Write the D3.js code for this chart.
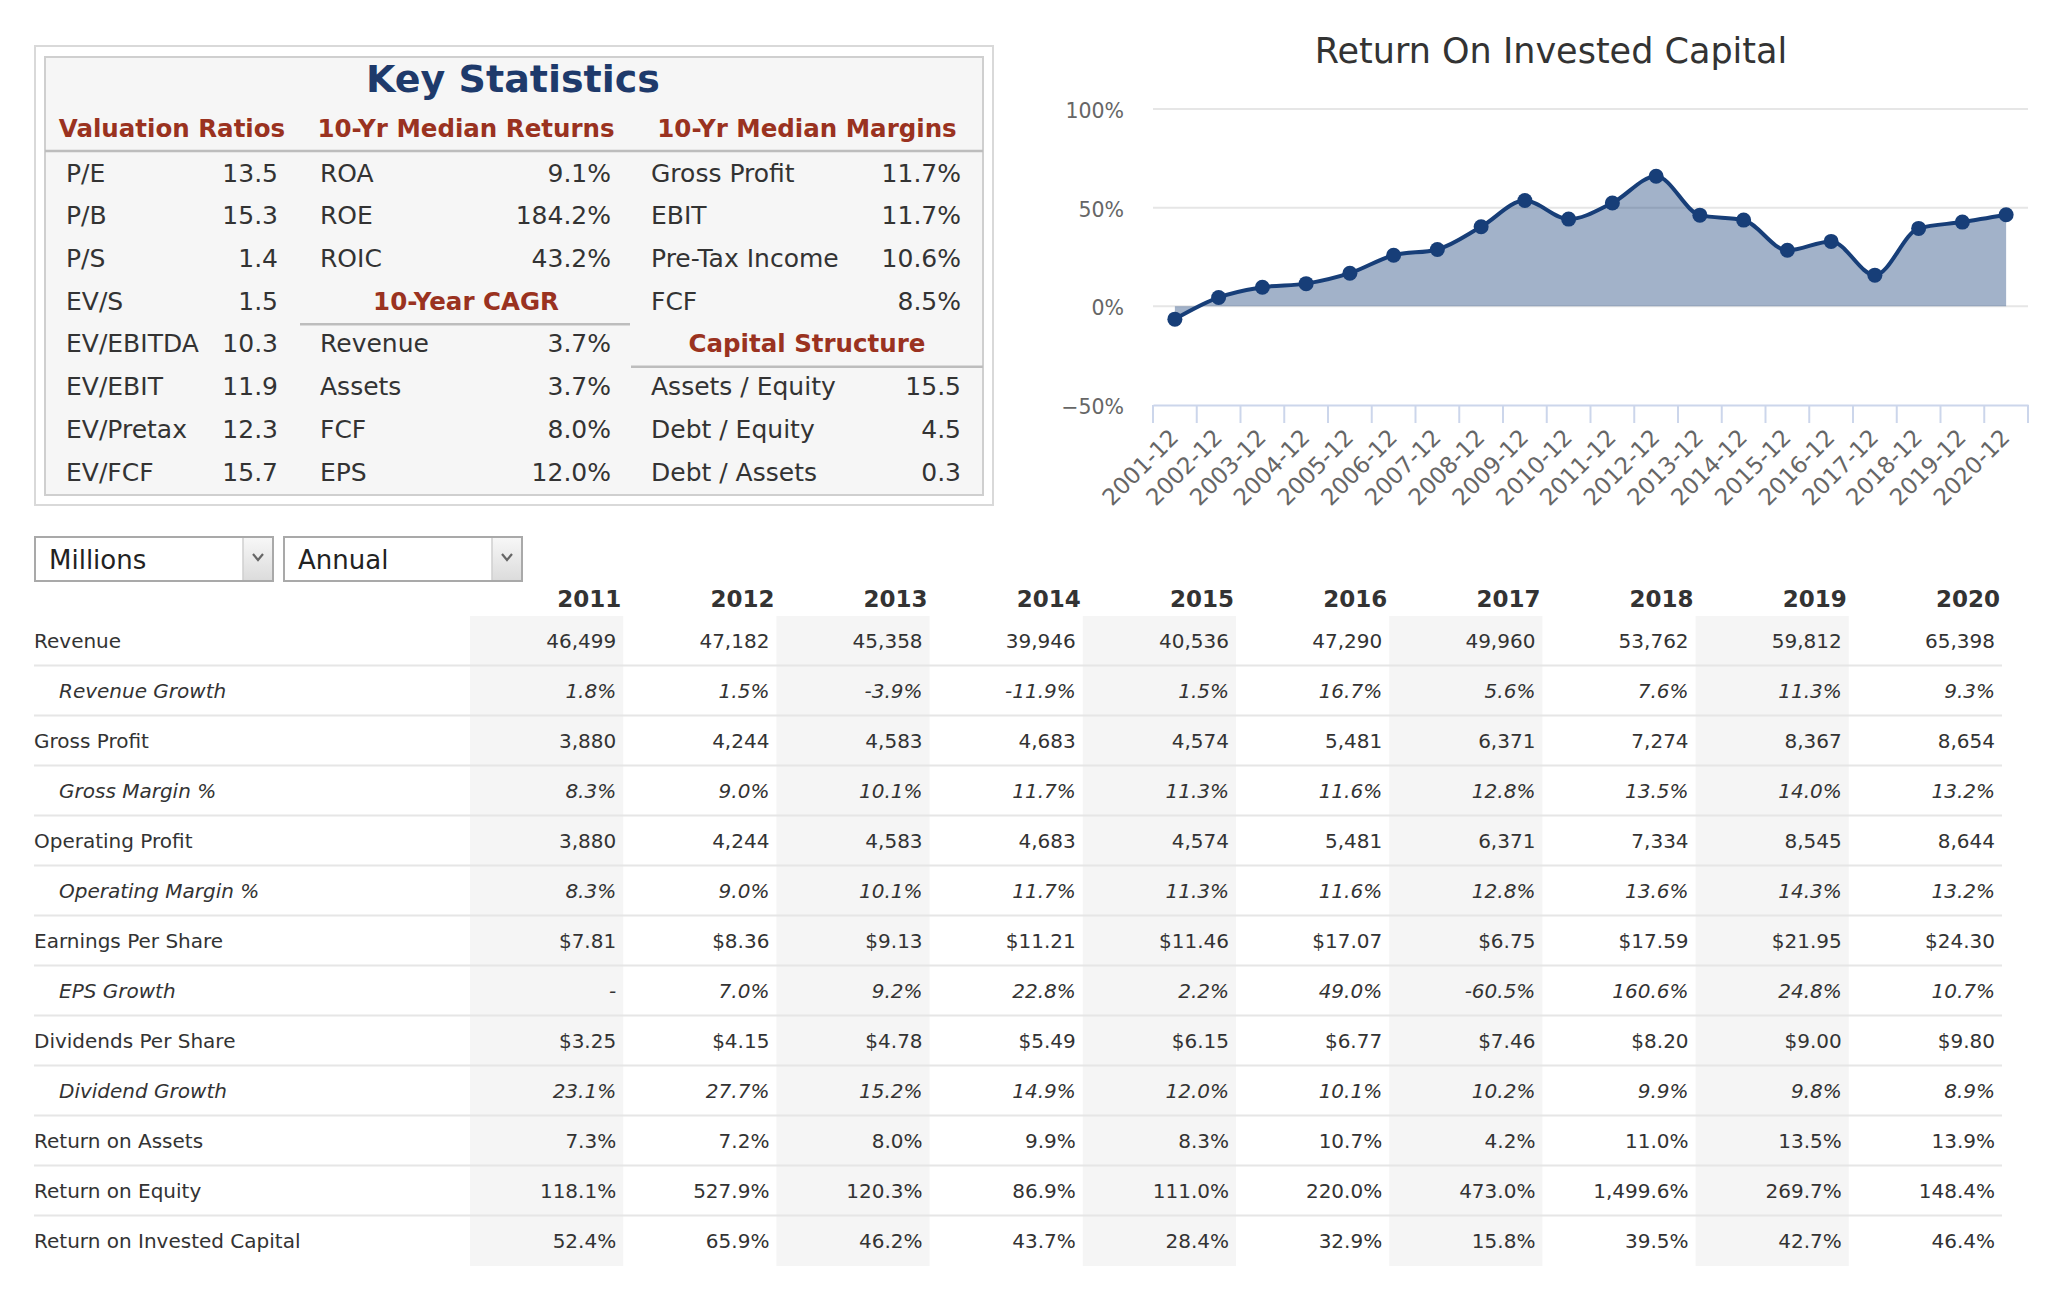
<!DOCTYPE html>
<html>
<head>
<meta charset="utf-8">
<script src="https://cdn.jsdelivr.net/npm/d3@7"></script>
<style>
  html, body { margin: 0; padding: 0; background: #ffffff; }
  svg { display: block; font-family: "DejaVu Sans", Verdana, sans-serif; }
</style>
</head>
<body>
<script>
// ---------------- DATA ----------------
// Key statistics
const valuationLabels = ["P/E", "P/B", "P/S", "EV/S", "EV/EBITDA", "EV/EBIT", "EV/Pretax", "EV/FCF"];
const valuationValues = ["13.5", "15.3", "1.4", "1.5", "10.3", "11.9", "12.3", "15.7"];
const returnsLabels = ["ROA", "ROE", "ROIC"];
const returnsValues = ["9.1%", "184.2%", "43.2%"];
const cagrLabels = ["Revenue", "Assets", "FCF", "EPS"];
const cagrValues = ["3.7%", "3.7%", "8.0%", "12.0%"];
const marginsLabels = ["Gross Profit", "EBIT", "Pre-Tax Income", "FCF"];
const marginsValues = ["11.7%", "11.7%", "10.6%", "8.5%"];
const capitalLabels = ["Assets / Equity", "Debt / Equity", "Debt / Assets"];
const capitalValues = ["15.5", "4.5", "0.3"];

// ROIC chart
const roicDates = ["2001-12","2002-12","2003-12","2004-12","2005-12","2006-12","2007-12","2008-12","2009-12","2010-12",
                   "2011-12","2012-12","2013-12","2014-12","2015-12","2016-12","2017-12","2018-12","2019-12","2020-12"];
const roicValues = [-6.5, 4.5, 9.7, 11.5, 16.8, 25.9, 28.8, 40.3, 53.6, 44.2,
                    52.4, 65.9, 46.2, 43.7, 28.4, 32.9, 15.8, 39.5, 42.7, 46.4];
const roicTicks = [-50, 0, 50, 100];

// Financial table
const years = [2011, 2012, 2013, 2014, 2015, 2016, 2017, 2018, 2019, 2020];
const revenue = [46499, 47182, 45358, 39946, 40536, 47290, 49960, 53762, 59812, 65398];
const revenueGrowth = [1.8, 1.5, -3.9, -11.9, 1.5, 16.7, 5.6, 7.6, 11.3, 9.3];
const grossProfit = [3880, 4244, 4583, 4683, 4574, 5481, 6371, 7274, 8367, 8654];
const grossMargin = [8.3, 9.0, 10.1, 11.7, 11.3, 11.6, 12.8, 13.5, 14.0, 13.2];
const operatingProfit = [3880, 4244, 4583, 4683, 4574, 5481, 6371, 7334, 8545, 8644];
const operatingMargin = [8.3, 9.0, 10.1, 11.7, 11.3, 11.6, 12.8, 13.6, 14.3, 13.2];
const eps = [7.81, 8.36, 9.13, 11.21, 11.46, 17.07, 6.75, 17.59, 21.95, 24.30];
const epsGrowth = [null, 7.0, 9.2, 22.8, 2.2, 49.0, -60.5, 160.6, 24.8, 10.7];
const dps = [3.25, 4.15, 4.78, 5.49, 6.15, 6.77, 7.46, 8.20, 9.00, 9.80];
const dividendGrowth = [23.1, 27.7, 15.2, 14.9, 12.0, 10.1, 10.2, 9.9, 9.8, 8.9];
const roa = [7.3, 7.2, 8.0, 9.9, 8.3, 10.7, 4.2, 11.0, 13.5, 13.9];
const roe = [118.1, 527.9, 120.3, 86.9, 111.0, 220.0, 473.0, 1499.6, 269.7, 148.4];
const roic = [52.4, 65.9, 46.2, 43.7, 28.4, 32.9, 15.8, 39.5, 42.7, 46.4];
const unitOptions = ["Millions", "Annual"];

// ---------------- HELPERS ----------------
const fmtInt = d3.format(",");
const fmtPct = v => v == null ? "-" : (v < 0 ? "-" : "") + d3.format(",.1f")(Math.abs(v)) + "%";
const fmtUsd = v => "$" + v.toFixed(2);

const tableRows = [
  { label: "Revenue", values: revenue, fmt: fmtInt, italic: false },
  { label: "Revenue Growth", values: revenueGrowth, fmt: fmtPct, italic: true },
  { label: "Gross Profit", values: grossProfit, fmt: fmtInt, italic: false },
  { label: "Gross Margin %", values: grossMargin, fmt: fmtPct, italic: true },
  { label: "Operating Profit", values: operatingProfit, fmt: fmtInt, italic: false },
  { label: "Operating Margin %", values: operatingMargin, fmt: fmtPct, italic: true },
  { label: "Earnings Per Share", values: eps, fmt: fmtUsd, italic: false },
  { label: "EPS Growth", values: epsGrowth, fmt: fmtPct, italic: true },
  { label: "Dividends Per Share", values: dps, fmt: fmtUsd, italic: false },
  { label: "Dividend Growth", values: dividendGrowth, fmt: fmtPct, italic: true },
  { label: "Return on Assets", values: roa, fmt: fmtPct, italic: false },
  { label: "Return on Equity", values: roe, fmt: fmtPct, italic: false },
  { label: "Return on Invested Capital", values: roic, fmt: fmtPct, italic: false }
];

const svg = d3.select("body").append("svg")
  .attr("width", 2062).attr("height", 1290);

// ---------------- KEY STATISTICS ----------------
const ks = svg.append("g");
ks.append("rect").attr("x", 35).attr("y", 46).attr("width", 958).attr("height", 459)
  .attr("fill", "#fff").attr("stroke", "#d9d9d9").attr("stroke-width", 2);
ks.append("rect").attr("x", 45).attr("y", 57).attr("width", 938).attr("height", 438)
  .attr("fill", "#f6f6f6").attr("stroke", "#cfcfcf").attr("stroke-width", 2);
ks.append("text").attr("x", 513).attr("y", 92).attr("text-anchor", "middle")
  .attr("font-size", 38).attr("font-weight", "bold").attr("fill", "#1e3a6b")
  .text("Key Statistics");

const ksRow = d3.scaleLinear().domain([0, 7]).range([181.5, 480.5]);
const ksCols = [
  { labelX: 66, valueX: 278, center: 172 },
  { labelX: 320, valueX: 611, center: 466 },
  { labelX: 651, valueX: 961, center: 807 }
];
const headerColor = "#9a3220";
const ksText = "#333";

function ksHeader(col, text, y) {
  ks.append("text").attr("x", ksCols[col].center).attr("y", y).attr("text-anchor", "middle")
    .attr("font-size", 24.5).attr("font-weight", "bold").attr("fill", headerColor).text(text);
}
function ksUnderline(x0, x1, y) {
  ks.append("line").attr("x1", x0).attr("x2", x1).attr("y1", y).attr("y2", y)
    .attr("stroke", "#bdbdbd").attr("stroke-width", 2.5);
}
function ksItems(col, labels, values, startRow) {
  const g = ks.append("g");
  g.selectAll("text.l").data(labels).join("text").attr("class", "l")
    .attr("x", ksCols[col].labelX).attr("y", (d, i) => ksRow(startRow + i))
    .attr("font-size", 25).attr("fill", ksText).text(d => d);
  g.selectAll("text.v").data(values).join("text").attr("class", "v")
    .attr("x", ksCols[col].valueX).attr("y", (d, i) => ksRow(startRow + i))
    .attr("text-anchor", "end").attr("font-size", 25).attr("fill", ksText).text(d => d);
}

ksHeader(0, "Valuation Ratios", 137);
ksHeader(1, "10-Yr Median Returns", 137);
ksHeader(2, "10-Yr Median Margins", 137);
ksUnderline(45, 983, 151);
ksItems(0, valuationLabels, valuationValues, 0);
ksItems(1, returnsLabels, returnsValues, 0);
ksHeader(1, "10-Year CAGR", ksRow(3));
ksUnderline(300, 630, ksRow(3) + 14.5);
ksItems(1, cagrLabels, cagrValues, 4);
ksItems(2, marginsLabels, marginsValues, 0);
ksHeader(2, "Capital Structure", ksRow(4));
ksUnderline(631, 983, ksRow(4) + 14.5);
ksItems(2, capitalLabels, capitalValues, 5);

// ---------------- ROIC CHART ----------------
const ch = svg.append("g");
const lineColor = "#173e78";
const x = d3.scaleBand().domain(roicDates).range([1153, 2028]);
const y = d3.scaleLinear().domain([-50, 100]).range([405, 109]);
const cx = d => x(d) + x.bandwidth() / 2;

ch.append("text").attr("x", 1551).attr("y", 63).attr("text-anchor", "middle")
  .attr("font-size", 35).attr("fill", "#333").text("Return On Invested Capital");

// gridlines
ch.selectAll("line.grid").data(roicTicks.filter(t => t > -50)).join("line").attr("class", "grid")
  .attr("x1", 1153).attr("x2", 2028).attr("y1", d => y(d)).attr("y2", d => y(d))
  .attr("stroke", "#e6e6e6").attr("stroke-width", 2);

// y labels
ch.selectAll("text.ylab").data(roicTicks).join("text").attr("class", "ylab")
  .attr("x", 1124).attr("y", d => y(d) + 9).attr("text-anchor", "end")
  .attr("font-size", 20.5).attr("fill", "#666")
  .text(d => (d < 0 ? "\u221250" : d) + "%");

const pts = roicDates.map((d, i) => ({ d, v: roicValues[i] }));
const area = d3.area().x(p => cx(p.d)).y0(y(0)).y1(p => y(p.v)).curve(d3.curveMonotoneX);
const line = d3.line().x(p => cx(p.d)).y(p => y(p.v)).curve(d3.curveMonotoneX);

ch.append("path").datum(pts).attr("d", area).attr("fill", lineColor).attr("fill-opacity", 0.4);

// x axis
const xAxis = d3.axisBottom(x).tickSize(0).tickFormat("");
const axisG = ch.append("g").attr("transform", `translate(0,${y(-50)})`).call(xAxis);
axisG.select(".domain").attr("stroke", "#ccd6eb").attr("stroke-width", 2);
const boundaries = roicDates.map(d => x(d)).concat([x.range()[1]]);
axisG.selectAll("line.tk").data(boundaries).join("line").attr("class", "tk")
  .attr("x1", d => d).attr("x2", d => d).attr("y1", 0).attr("y2", 18)
  .attr("stroke", "#ccd6eb").attr("stroke-width", 2);
ch.selectAll("text.xlab").data(roicDates).join("text").attr("class", "xlab")
  .attr("transform", d => `translate(${cx(d) + 5},${y(-50) + 34}) rotate(-45)`)
  .attr("text-anchor", "end").attr("font-size", 23).attr("fill", "#666")
  .text(d => d);

ch.append("path").datum(pts).attr("d", line).attr("fill", "none")
  .attr("stroke", lineColor).attr("stroke-width", 4);
ch.selectAll("circle.pt").data(pts).join("circle").attr("class", "pt")
  .attr("cx", p => cx(p.d)).attr("cy", p => y(p.v)).attr("r", 7.5).attr("fill", lineColor);

// ---------------- DROPDOWNS ----------------
const dd = svg.append("g");
const defs = svg.append("defs");
const grad = defs.append("linearGradient").attr("id", "ddgrad").attr("x1", 0).attr("x2", 0).attr("y1", 0).attr("y2", 1);
grad.append("stop").attr("offset", "0%").attr("stop-color", "#f7f7f7");
grad.append("stop").attr("offset", "100%").attr("stop-color", "#dcdcdc");
const ddBoxes = [{ x: 35, w: 238 }, { x: 284, w: 238 }];
ddBoxes.forEach((b, i) => {
  const g = dd.append("g");
  g.append("rect").attr("x", b.x).attr("y", 537).attr("width", b.w).attr("height", 44)
    .attr("fill", "#fff").attr("stroke", "#a9a9a9").attr("stroke-width", 2);
  g.append("rect").attr("x", b.x + b.w - 30).attr("y", 538).attr("width", 29).attr("height", 42)
    .attr("fill", "url(#ddgrad)");
  g.append("line").attr("x1", b.x + b.w - 30).attr("x2", b.x + b.w - 30).attr("y1", 538).attr("y2", 580)
    .attr("stroke", "#cfcfcf").attr("stroke-width", 1.5);
  g.append("path").attr("d", `M${b.x + b.w - 20},554 L${b.x + b.w - 15},560 L${b.x + b.w - 10},554`)
    .attr("fill", "none").attr("stroke", "#666").attr("stroke-width", 2.2);
  g.append("text").attr("x", b.x + 14).attr("y", 569).attr("font-size", 26).attr("fill", "#222")
    .text(unitOptions[i]);
});

// ---------------- TABLE ----------------
const tb = svg.append("g");
const colX = d3.scaleBand().domain(years).range([470, 2002]);
const rowY = d3.scaleBand().domain(d3.range(tableRows.length)).range([616, 1266]);

tb.selectAll("rect.shade").data(years.filter((d, i) => i % 2 === 0)).join("rect").attr("class", "shade")
  .attr("x", d => colX(d)).attr("y", rowY.range()[0])
  .attr("width", colX.bandwidth()).attr("height", rowY.range()[1] - rowY.range()[0])
  .attr("fill", "#f5f5f5");

tb.selectAll("line.rowline").data(d3.range(tableRows.length - 1)).join("line").attr("class", "rowline")
  .attr("x1", 34).attr("x2", 2002)
  .attr("y1", i => rowY(i) + rowY.bandwidth() - 0.5).attr("y2", i => rowY(i) + rowY.bandwidth() - 0.5)
  .attr("stroke", "#e6e6e6").attr("stroke-width", 2);

tb.selectAll("text.year").data(years).join("text").attr("class", "year")
  .attr("x", d => colX(d) + colX.bandwidth() - 2).attr("y", 607)
  .attr("text-anchor", "end").attr("font-size", 23).attr("font-weight", "bold").attr("fill", "#333")
  .text(d => d);

const rowsG = tb.selectAll("g.row").data(tableRows).join("g").attr("class", "row")
  .attr("transform", (r, i) => `translate(0,${rowY(i) + 32})`)
  .attr("font-style", r => r.italic ? "italic" : "normal");
rowsG.append("text").attr("x", r => r.italic ? 59 : 34).attr("y", 0)
  .attr("font-size", 20).attr("fill", "#333").text(r => r.label);
rowsG.selectAll("text.val").data(r => r.values.map((v, j) => ({ v, year: years[j], fmt: r.fmt })))
  .join("text").attr("class", "val")
  .attr("x", c => colX(c.year) + colX.bandwidth() - 7).attr("y", 0)
  .attr("text-anchor", "end").attr("font-size", 20).attr("fill", "#333")
  .text(c => c.v == null ? "-" : c.fmt(c.v));
</script>
</body>
</html>
